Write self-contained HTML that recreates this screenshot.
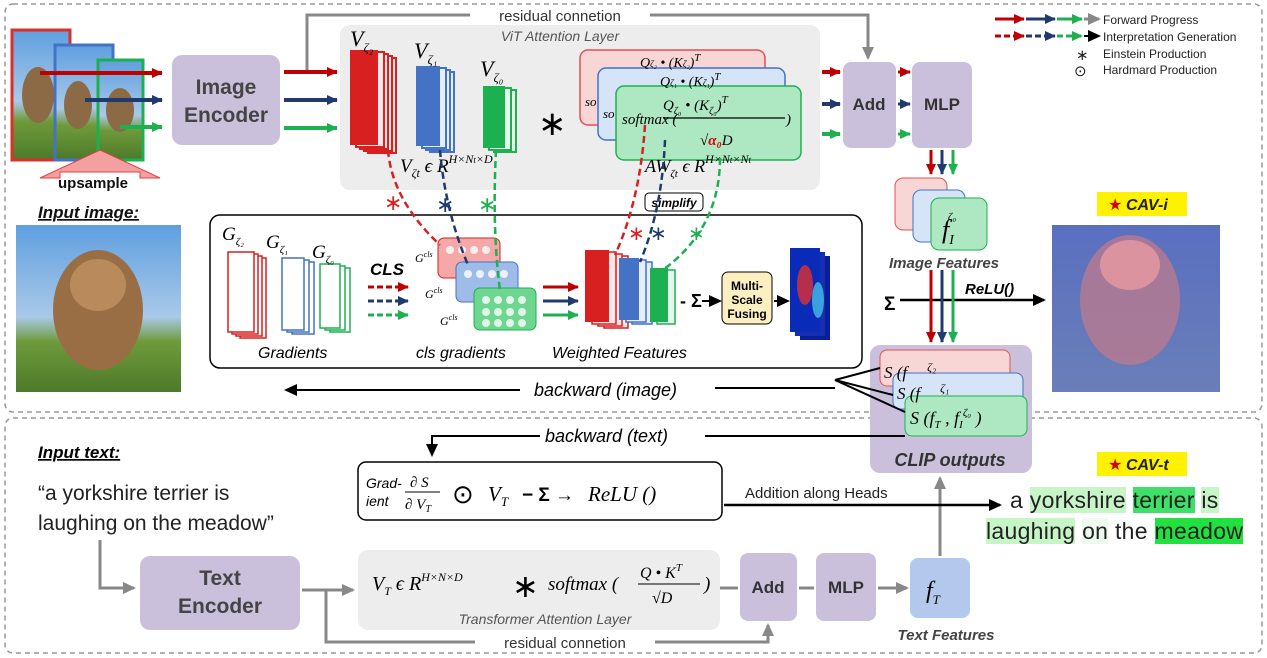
<!DOCTYPE html>
<html><head><meta charset="utf-8"><style>
html,body{margin:0;padding:0;background:#fff;}
body{position:relative;width:1267px;height:658px;overflow:hidden}
svg{display:block;font-family:"Liberation Sans",sans-serif;}
.it{font-style:italic}
.ser{font-family:"Liberation Serif",serif;font-style:italic}
.cav{position:absolute;font-family:"Liberation Sans",sans-serif;font-size:23px;letter-spacing:0.3px;color:#222;white-space:nowrap;line-height:28px}
.l1{background:#c8f5c8}.h1{background:#3fe06a}.h2{background:#22e040}
</style></head><body>
<svg width="1267" height="658" viewBox="0 0 1267 658" xmlns="http://www.w3.org/2000/svg">
<defs>
<marker id="ag" markerUnits="userSpaceOnUse" markerWidth="14" markerHeight="14" refX="11" refY="7" orient="auto"><path d="M0,1 L13,7 L0,13z" fill="#888"/></marker>
<marker id="ak" markerUnits="userSpaceOnUse" markerWidth="14" markerHeight="14" refX="11" refY="7" orient="auto"><path d="M0,1 L13,7 L0,13z" fill="#000"/></marker>
<marker id="ar" markerUnits="userSpaceOnUse" markerWidth="12" markerHeight="12" refX="10" refY="6" orient="auto"><path d="M0,1 L11,6 L0,11z" fill="#c00000"/></marker>
<marker id="ab" markerUnits="userSpaceOnUse" markerWidth="12" markerHeight="12" refX="10" refY="6" orient="auto"><path d="M0,1 L11,6 L0,11z" fill="#1f3a6e"/></marker>
<marker id="agr" markerUnits="userSpaceOnUse" markerWidth="12" markerHeight="12" refX="10" refY="6" orient="auto"><path d="M0,1 L11,6 L0,11z" fill="#1db050"/></marker>
<linearGradient id="dog" x1="0" y1="0" x2="0" y2="1"><stop offset="0" stop-color="#5f9fe0"/><stop offset="0.55" stop-color="#a9c9e8"/><stop offset="0.7" stop-color="#6f9a3a"/><stop offset="1" stop-color="#4d7a2a"/></linearGradient>
<linearGradient id="cav" x1="0" y1="0" x2="0" y2="1"><stop offset="0" stop-color="#5a6fc0"/><stop offset="1" stop-color="#6a7fb8"/></linearGradient>
</defs>

<rect x="5" y="4" width="1257" height="408" rx="8" fill="none" stroke="#999" stroke-dasharray="5,4" stroke-width="1.5"/>
<rect x="5" y="418" width="1257" height="235" rx="8" fill="none" stroke="#999" stroke-dasharray="5,4" stroke-width="1.5"/>

<rect x="12" y="30" width="58" height="130" fill="url(#dog)" stroke="#d9302c" stroke-width="3"/>
<rect x="55" y="45" width="58" height="115" fill="url(#dog)" stroke="#4472c4" stroke-width="3"/>
<rect x="98" y="60" width="45" height="100" fill="url(#dog)" stroke="#1db050" stroke-width="3"/>
<ellipse cx="120" cy="110" rx="14" ry="22" fill="#8b6a45"/>
<ellipse cx="78" cy="105" rx="14" ry="24" fill="#8b6a45"/>
<ellipse cx="38" cy="95" rx="16" ry="28" fill="#8b6a45"/>
<line x1="40" y1="73" x2="162" y2="73" stroke="#c00000" stroke-width="4" marker-end="url(#ar)"/>
<line x1="85" y1="100" x2="162" y2="100" stroke="#1f3a6e" stroke-width="4" marker-end="url(#ab)"/>
<line x1="120" y1="127" x2="162" y2="127" stroke="#1db050" stroke-width="4" marker-end="url(#agr)"/>
<polygon points="40,178 100,150 160,178 140,178 140,172 60,172 60,178" fill="#f4a0a0" stroke="#e04040"/>
<text x="58" y="188" font-size="15" font-weight="bold" fill="#111">upsample</text>
<text x="38" y="218" font-size="17" font-weight="bold" class="it" fill="#111" text-decoration="underline">Input image:</text>
<rect x="16" y="225" width="165" height="167" fill="url(#dog)"/>
<ellipse cx="98" cy="310" rx="45" ry="60" fill="#9a6e45"/>
<ellipse cx="98" cy="285" rx="28" ry="26" fill="#b98a5c"/>

<rect x="172" y="55" width="108" height="90" rx="10" fill="#cbc0dc"/>
<text x="226" y="94" font-size="21" font-weight="bold" fill="#444" text-anchor="middle">Image</text>
<text x="226" y="122" font-size="21" font-weight="bold" fill="#444" text-anchor="middle">Encoder</text>
<line x1="284" y1="72" x2="337" y2="72" stroke="#c00000" stroke-width="4" marker-end="url(#ar)"/>
<line x1="284" y1="100" x2="337" y2="100" stroke="#1f3a6e" stroke-width="4" marker-end="url(#ab)"/>
<line x1="284" y1="128" x2="337" y2="128" stroke="#1db050" stroke-width="4" marker-end="url(#agr)"/>

<polyline points="307,70 307,15 868,15 868,58" fill="none" stroke="#888" stroke-width="3" marker-end="url(#ag)"/>
<rect x="470" y="6" width="180" height="18" fill="#fff"/>
<text x="560" y="21" font-size="15" fill="#333" text-anchor="middle">residual connetion</text>

<rect x="340" y="25" width="480" height="165" rx="10" fill="#ededed"/>
<text x="560" y="41" font-size="14" class="it" fill="#555" text-anchor="middle">ViT Attention Layer</text>
<g stroke="#d92020" stroke-width="2" fill="#fbe6e6">
<rect x="368" y="58" width="28" height="95"/><rect x="364" y="56" width="28" height="95"/><rect x="360" y="54" width="28" height="95"/><rect x="356" y="52" width="28" height="95"/></g>
<rect x="350" y="50" width="28" height="95" fill="#d92020"/>
<g stroke="#4472c4" stroke-width="2" fill="#e6eefb">
<rect x="430" y="72" width="24" height="80"/><rect x="426" y="70" width="24" height="80"/><rect x="422" y="68" width="24" height="80"/></g>
<rect x="416" y="66" width="24" height="80" fill="#4472c4"/>
<g stroke="#1db050" stroke-width="2" fill="#e5f7ea">
<rect x="494" y="90" width="22" height="62"/><rect x="489" y="88" width="22" height="62"/></g>
<rect x="483" y="86" width="22" height="62" fill="#1db050"/>
<text x="350" y="46" font-size="22" class="ser">V<tspan font-size="13" dy="6">ζ₂</tspan></text>
<text x="414" y="58" font-size="22" class="ser">V<tspan font-size="13" dy="6">ζ₁</tspan></text>
<text x="480" y="76" font-size="22" class="ser">V<tspan font-size="13" dy="6">ζ₀</tspan></text>
<text x="538" y="135" font-size="34">∗</text>
<text x="400" y="172" font-size="19" class="ser">V<tspan font-size="12" dy="5">ζt</tspan><tspan dy="-5"> ϵ R</tspan><tspan font-size="12" dy="-9">H×N<tspan font-size="9">t</tspan>×D</tspan></text>
<rect x="580" y="50" width="185" height="75" rx="8" fill="#f9d6d6" stroke="#e05050" stroke-width="1.5"/>
<rect x="598" y="68" width="187" height="72" rx="8" fill="#d6e4f7" stroke="#4472c4" stroke-width="1.5"/>
<rect x="616" y="86" width="185" height="74" rx="8" fill="#aee8c2" stroke="#1db050" stroke-width="1.5"/>
<text x="640" y="67" font-size="14" class="ser">Q<tspan font-size="9">ζ₂</tspan> • (K<tspan font-size="9">ζ₂</tspan>)<tspan dy="-6" font-size="11">T</tspan></text>
<text x="660" y="86" font-size="14" class="ser">Q<tspan font-size="9">ζ₁</tspan> • (K<tspan font-size="9">ζ₁</tspan>)<tspan dy="-6" font-size="11">T</tspan></text>
<text x="585" y="106" font-size="13" class="ser">so</text><text x="603" y="118" font-size="13" class="ser">so</text>
<text x="663" y="110" font-size="15" class="ser">Q<tspan font-size="10" dy="4">ζ₀</tspan><tspan dy="-4"> • (K</tspan><tspan font-size="10" dy="4">ζ₀</tspan><tspan dy="-4">)</tspan><tspan dy="-7" font-size="11">T</tspan></text>
<line x1="663" y1="118" x2="785" y2="118" stroke="#000" stroke-width="1.2"/>
<text x="622" y="124" font-size="15" class="ser">softmax (</text>
<text x="786" y="124" font-size="15" class="ser">)</text>
<text x="700" y="145" font-size="15" class="ser">√<tspan fill="#e00000" font-weight="bold">α₀</tspan>D</text>
<text x="645" y="172" font-size="18" class="ser">AW<tspan font-size="11" dy="5">ζt</tspan><tspan dy="-5"> ϵ R</tspan><tspan font-size="12" dy="-9">H×N<tspan font-size="9">t</tspan>×N<tspan font-size="9">t</tspan></tspan></text>
<rect x="645" y="193" width="58" height="18" rx="4" fill="#fff" stroke="#000"/>
<text x="674" y="207" font-size="12" font-weight="bold" class="it" text-anchor="middle">simplify</text>

<line x1="822" y1="72" x2="840" y2="72" stroke="#c00000" stroke-width="4" marker-end="url(#ar)"/>
<line x1="822" y1="104" x2="840" y2="104" stroke="#1f3a6e" stroke-width="4" marker-end="url(#ab)"/>
<line x1="822" y1="134" x2="840" y2="134" stroke="#1db050" stroke-width="4" marker-end="url(#agr)"/>
<rect x="843" y="62" width="53" height="86" rx="8" fill="#cbc0dc"/>
<text x="869" y="110" font-size="17" font-weight="bold" fill="#333" text-anchor="middle">Add</text>
<line x1="898" y1="72" x2="910" y2="72" stroke="#c00000" stroke-width="3" marker-end="url(#ar)"/>
<line x1="898" y1="104" x2="910" y2="104" stroke="#1f3a6e" stroke-width="3" marker-end="url(#ab)"/>
<line x1="898" y1="134" x2="910" y2="134" stroke="#1db050" stroke-width="3" marker-end="url(#agr)"/>
<rect x="912" y="62" width="60" height="86" rx="8" fill="#cbc0dc"/>
<text x="942" y="110" font-size="17" font-weight="bold" fill="#333" text-anchor="middle">MLP</text>
<line x1="931" y1="150" x2="931" y2="174" stroke="#c00000" stroke-width="3" marker-end="url(#ar)"/>
<line x1="942" y1="150" x2="942" y2="174" stroke="#1f3a6e" stroke-width="3" marker-end="url(#ab)"/>
<line x1="953" y1="150" x2="953" y2="174" stroke="#1db050" stroke-width="3" marker-end="url(#agr)"/>
<rect x="895" y="178" width="52" height="52" rx="8" fill="#f9d6d6" stroke="#e05050"/>
<rect x="913" y="190" width="52" height="52" rx="8" fill="#d6e4f7" stroke="#4472c4"/>
<rect x="931" y="198" width="56" height="52" rx="8" fill="#aee8c2" stroke="#1db050"/>
<text x="942" y="238" font-size="26" class="ser">f<tspan font-size="14" dy="6">I</tspan><tspan font-size="11" dy="-24" dx="-6">ζ₀</tspan></text>
<text x="944" y="268" font-size="15" font-weight="bold" class="it" fill="#444" text-anchor="middle">Image Features</text>

<line x1="995" y1="19" x2="1024" y2="19" stroke="#c00000" stroke-width="3" marker-end="url(#ar)"/>
<line x1="1026" y1="19" x2="1055" y2="19" stroke="#1f3a6e" stroke-width="3" marker-end="url(#ab)"/>
<line x1="1057" y1="19" x2="1082" y2="19" stroke="#1db050" stroke-width="3" marker-end="url(#agr)"/>
<line x1="1084" y1="19" x2="1099" y2="19" stroke="#888" stroke-width="3" marker-end="url(#ag)"/>
<text x="1103" y="24" font-size="12" fill="#222">Forward Progress</text>
<line x1="995" y1="36" x2="1024" y2="36" stroke="#c00000" stroke-width="3" stroke-dasharray="6,3" marker-end="url(#ar)"/>
<line x1="1026" y1="36" x2="1055" y2="36" stroke="#1f3a6e" stroke-width="3" stroke-dasharray="6,3" marker-end="url(#ab)"/>
<line x1="1057" y1="36" x2="1082" y2="36" stroke="#1db050" stroke-width="3" stroke-dasharray="6,3" marker-end="url(#agr)"/>
<line x1="1084" y1="36" x2="1099" y2="36" stroke="#000" stroke-width="2" marker-end="url(#ak)"/>
<text x="1103" y="41" font-size="12" fill="#222">Interpretation Generation</text>
<text x="1076" y="60" font-size="15" fill="#222">∗</text><text x="1103" y="58" font-size="12" fill="#222">Einstein Production</text>
<text x="1074" y="76" font-size="15" fill="#222">⊙</text><text x="1103" y="74" font-size="12" fill="#222">Hardmard Production</text>

<rect x="210" y="215" width="652" height="153" rx="10" fill="#fff" stroke="#000" stroke-width="1.5"/>
<g stroke="#d92020" stroke-width="1.5" fill="#fff">
<rect x="240" y="258" width="26" height="80"/><rect x="236" y="256" width="26" height="80"/><rect x="232" y="254" width="26" height="80"/><rect x="228" y="252" width="26" height="80"/></g>
<g stroke="#4472c4" stroke-width="1.5" fill="#fff">
<rect x="292" y="262" width="22" height="72"/><rect x="287" y="260" width="22" height="72"/><rect x="282" y="258" width="22" height="72"/></g>
<g stroke="#1db050" stroke-width="1.5" fill="#fff">
<rect x="330" y="268" width="20" height="64"/><rect x="325" y="266" width="20" height="64"/><rect x="320" y="264" width="20" height="64"/></g>
<text x="222" y="240" font-size="19" class="ser">G<tspan font-size="11" dy="5">ζ₂</tspan></text>
<text x="266" y="248" font-size="19" class="ser">G<tspan font-size="11" dy="5">ζ₁</tspan></text>
<text x="312" y="258" font-size="19" class="ser">G<tspan font-size="11" dy="5">ζ₀</tspan></text>
<text x="258" y="358" font-size="16" class="it">Gradients</text>
<text x="370" y="275" font-size="17" font-weight="bold" class="it">CLS</text>
<line x1="368" y1="287" x2="408" y2="287" stroke="#c00000" stroke-width="3" stroke-dasharray="6,3" marker-end="url(#ar)"/>
<line x1="368" y1="301" x2="408" y2="301" stroke="#1f3a6e" stroke-width="3" stroke-dasharray="6,3" marker-end="url(#ab)"/>
<line x1="368" y1="315" x2="408" y2="315" stroke="#1db050" stroke-width="3" stroke-dasharray="6,3" marker-end="url(#agr)"/>
<rect x="438" y="238" width="62" height="40" rx="6" fill="#f4a8a8" stroke="#d92020"/>
<rect x="456" y="262" width="62" height="40" rx="6" fill="#9fbbe8" stroke="#4472c4"/>
<rect x="474" y="288" width="62" height="42" rx="6" fill="#6ed690" stroke="#1db050"/>
<g fill="#fff" opacity="0.8">
<circle cx="450" cy="250" r="4"/><circle cx="462" cy="250" r="4"/><circle cx="474" cy="250" r="4"/><circle cx="486" cy="250" r="4"/>
<circle cx="468" cy="274" r="4"/><circle cx="480" cy="274" r="4"/><circle cx="492" cy="274" r="4"/><circle cx="504" cy="274" r="4"/>
<circle cx="486" cy="300" r="4"/><circle cx="498" cy="300" r="4"/><circle cx="510" cy="300" r="4"/><circle cx="522" cy="300" r="4"/>
<circle cx="486" cy="312" r="4"/><circle cx="498" cy="312" r="4"/><circle cx="510" cy="312" r="4"/><circle cx="522" cy="312" r="4"/>
<circle cx="486" cy="323" r="4"/><circle cx="498" cy="323" r="4"/><circle cx="510" cy="323" r="4"/><circle cx="522" cy="323" r="4"/></g>
<text x="415" y="262" font-size="12" class="ser">G<tspan font-size="8" dy="-5">cls</tspan></text>
<text x="425" y="298" font-size="12" class="ser">G<tspan font-size="8" dy="-5">cls</tspan></text>
<text x="440" y="325" font-size="12" class="ser">G<tspan font-size="8" dy="-5">cls</tspan></text>
<text x="416" y="358" font-size="16" class="it">cls gradients</text>
<line x1="543" y1="287" x2="578" y2="287" stroke="#c00000" stroke-width="3" marker-end="url(#ar)"/>
<line x1="543" y1="301" x2="578" y2="301" stroke="#1f3a6e" stroke-width="3" marker-end="url(#ab)"/>
<line x1="543" y1="315" x2="578" y2="315" stroke="#1db050" stroke-width="3" marker-end="url(#agr)"/>
<g stroke="#d92020" stroke-width="1.5" fill="#fbe6e6"><rect x="604" y="256" width="24" height="72"/><rect x="598" y="254" width="24" height="72"/><rect x="592" y="252" width="24" height="72"/></g>
<rect x="585" y="250" width="24" height="72" fill="#d92020"/>
<g stroke="#4472c4" stroke-width="1.5" fill="#e6eefb"><rect x="632" y="262" width="20" height="62"/><rect x="626" y="260" width="20" height="62"/></g>
<rect x="619" y="258" width="20" height="62" fill="#4472c4"/>
<g stroke="#1db050" stroke-width="1.5" fill="#e5f7ea"><rect x="657" y="270" width="18" height="54"/></g>
<rect x="650" y="268" width="18" height="54" fill="#1db050"/>
<text x="552" y="358" font-size="16" class="it">Weighted Features</text>
<text x="680" y="307" font-size="18" font-weight="bold">- Σ</text>
<line x1="702" y1="301" x2="720" y2="301" stroke="#000" stroke-width="2" marker-end="url(#ak)"/>
<rect x="722" y="272" width="50" height="52" rx="6" fill="#fdf0c0" stroke="#000"/>
<text x="747" y="290" font-size="12" font-weight="bold" text-anchor="middle">Multi-</text>
<text x="747" y="304" font-size="12" font-weight="bold" text-anchor="middle">Scale</text>
<text x="747" y="318" font-size="12" font-weight="bold" text-anchor="middle">Fusing</text>
<line x1="774" y1="301" x2="788" y2="301" stroke="#000" stroke-width="2" marker-end="url(#ak)"/>
<rect x="800" y="256" width="30" height="84" fill="#0a1e9a"/><rect x="795" y="252" width="30" height="84" fill="#1430b0"/><rect x="790" y="248" width="30" height="84" fill="#0a2ab8"/>
<ellipse cx="805" cy="285" rx="8" ry="20" fill="#e03030" opacity="0.8"/><ellipse cx="818" cy="300" rx="6" ry="18" fill="#50d0f0" opacity="0.7"/>

<path d="M388,150 Q392,200 440,245" fill="none" stroke="#d92020" stroke-width="2.5" stroke-dasharray="7,4"/>
<path d="M440,150 Q445,210 468,265" fill="none" stroke="#1f3a6e" stroke-width="2.5" stroke-dasharray="7,4"/>
<path d="M496,150 Q492,230 500,290" fill="none" stroke="#1db050" stroke-width="2.5" stroke-dasharray="7,4"/>
<text x="384" y="210" font-size="22" fill="#d92020">∗</text>
<text x="436" y="212" font-size="22" fill="#1f3a6e">∗</text>
<text x="478" y="212" font-size="22" fill="#1db050">∗</text>
<path d="M645,125 Q640,200 615,255" fill="none" stroke="#d92020" stroke-width="2.5" stroke-dasharray="7,4"/>
<path d="M665,140 Q662,210 640,262" fill="none" stroke="#1f3a6e" stroke-width="2.5" stroke-dasharray="7,4"/>
<path d="M720,158 Q720,230 660,272" fill="none" stroke="#1db050" stroke-width="2.5" stroke-dasharray="7,4"/>
<text x="628" y="240" font-size="20" fill="#d92020">∗</text>
<text x="650" y="240" font-size="20" fill="#1f3a6e">∗</text>
<text x="688" y="240" font-size="20" fill="#1db050">∗</text>

<text x="884" y="310" font-size="19" font-weight="bold">Σ</text>
<line x1="900" y1="300" x2="1044" y2="300" stroke="#000" stroke-width="2.5" marker-end="url(#ak)"/>
<text x="965" y="294" font-size="15" font-weight="bold" class="it">ReLU()</text>
<line x1="931" y1="270" x2="931" y2="342" stroke="#c00000" stroke-width="3" marker-end="url(#ar)"/>
<line x1="942" y1="270" x2="942" y2="342" stroke="#1f3a6e" stroke-width="3" marker-end="url(#ab)"/>
<line x1="953" y1="270" x2="953" y2="342" stroke="#1db050" stroke-width="3" marker-end="url(#agr)"/>
<rect x="1097" y="192" width="90" height="24" fill="#fff200"/>
<text x="1108" y="210" font-size="16" fill="#d00000">★</text>
<text x="1126" y="210" font-size="16" font-weight="bold" class="it" fill="#222">CAV-i</text>
<rect x="1052" y="225" width="168" height="167" fill="url(#cav)"/>
<ellipse cx="1130" cy="300" rx="50" ry="65" fill="#c47a8a" opacity="0.7"/>
<ellipse cx="1130" cy="265" rx="30" ry="25" fill="#e89aa0" opacity="0.8"/>

<rect x="870" y="345" width="162" height="128" rx="10" fill="#cbc0dc"/>
<rect x="880" y="350" width="130" height="36" rx="7" fill="#f9d6d6" stroke="#e05050"/>
<rect x="893" y="373" width="130" height="36" rx="7" fill="#d6e4f7" stroke="#4472c4"/>
<rect x="905" y="396" width="122" height="40" rx="7" fill="#aee8c2" stroke="#1db050"/>
<text x="884" y="378" font-size="17" class="ser">S (f<tspan dx="20" font-size="12" dy="-7">ζ₂</tspan></text>
<text x="897" y="399" font-size="17" class="ser">S (f<tspan dx="20" font-size="12" dy="-7">ζ₁</tspan></text>
<text x="910" y="424" font-size="18" class="ser">S (f<tspan font-size="11" dy="4">T</tspan><tspan dy="-4"> , f</tspan><tspan font-size="11" dy="4">I</tspan><tspan font-size="11" dy="-12">ζ₀</tspan><tspan dy="8"> )</tspan></text>
<text x="950" y="466" font-size="18" font-weight="bold" class="it" fill="#333" text-anchor="middle">CLIP outputs</text>

<line x1="835" y1="380" x2="880" y2="368" stroke="#000" stroke-width="2"/>
<line x1="835" y1="380" x2="893" y2="395" stroke="#000" stroke-width="2"/>
<line x1="835" y1="380" x2="905" y2="412" stroke="#000" stroke-width="2"/>
<line x1="835" y1="388" x2="715" y2="388" stroke="#000" stroke-width="2"/>
<line x1="520" y1="390" x2="286" y2="390" stroke="#000" stroke-width="2" marker-end="url(#ak)"/>
<text x="534" y="396" font-size="18" class="it">backward (image)</text>
<line x1="905" y1="436" x2="705" y2="436" stroke="#000" stroke-width="2"/>
<polyline points="540,436 432,436 432,455" fill="none" stroke="#000" stroke-width="2" marker-end="url(#ak)"/>
<text x="545" y="442" font-size="18" class="it">backward (text)</text>

<text x="38" y="458" font-size="17" font-weight="bold" class="it" text-decoration="underline">Input text:</text>
<text x="38" y="500" font-size="21" fill="#222">“a yorkshire terrier is</text>
<text x="38" y="530" font-size="21" fill="#222">laughing on the meadow”</text>
<polyline points="100,540 100,588 134,588" fill="none" stroke="#888" stroke-width="3" marker-end="url(#ag)"/>
<rect x="140" y="556" width="160" height="74" rx="10" fill="#cbc0dc"/>
<text x="220" y="585" font-size="21" font-weight="bold" fill="#444" text-anchor="middle">Text</text>
<text x="220" y="613" font-size="21" font-weight="bold" fill="#444" text-anchor="middle">Encoder</text>
<line x1="302" y1="590" x2="353" y2="590" stroke="#888" stroke-width="3" marker-end="url(#ag)"/>
<polyline points="326,590 326,642 768,642 768,625" fill="none" stroke="#888" stroke-width="3" marker-end="url(#ag)"/>
<rect x="475" y="633" width="180" height="18" fill="#fff"/>
<text x="565" y="648" font-size="15" fill="#333" text-anchor="middle">residual connetion</text>
<rect x="358" y="550" width="362" height="80" rx="10" fill="#ededed"/>
<text x="372" y="590" font-size="20" class="ser">V<tspan font-size="12" dy="5">T</tspan><tspan dy="-5"> ϵ R</tspan><tspan font-size="12" dy="-9">H×N×D</tspan></text>
<text x="512" y="597" font-size="32">∗</text>
<text x="548" y="590" font-size="19" class="ser">softmax (</text>
<text x="640" y="578" font-size="16" class="ser">Q • K<tspan font-size="11" dy="-7">T</tspan></text>
<line x1="638" y1="584" x2="700" y2="584" stroke="#000"/>
<text x="652" y="603" font-size="16" class="ser">√D</text>
<text x="704" y="590" font-size="19" class="ser">)</text>
<text x="545" y="624" font-size="14" class="it" fill="#555" text-anchor="middle">Transformer Attention Layer</text>
<line x1="720" y1="588" x2="738" y2="588" stroke="#888" stroke-width="3"/>
<rect x="740" y="553" width="57" height="68" rx="8" fill="#cbc0dc"/>
<text x="768" y="593" font-size="17" font-weight="bold" fill="#333" text-anchor="middle">Add</text>
<line x1="799" y1="588" x2="814" y2="588" stroke="#888" stroke-width="3"/>
<rect x="816" y="553" width="60" height="68" rx="8" fill="#cbc0dc"/>
<text x="846" y="593" font-size="17" font-weight="bold" fill="#333" text-anchor="middle">MLP</text>
<line x1="878" y1="588" x2="907" y2="588" stroke="#888" stroke-width="3" marker-end="url(#ag)"/>
<rect x="910" y="558" width="60" height="60" rx="8" fill="#b4c8ee"/>
<text x="926" y="598" font-size="24" class="ser">f<tspan font-size="13" dy="6">T</tspan></text>
<text x="946" y="640" font-size="15" font-weight="bold" class="it" fill="#444" text-anchor="middle">Text Features</text>
<line x1="940" y1="556" x2="940" y2="478" stroke="#888" stroke-width="3" marker-end="url(#ag)"/>

<rect x="358" y="462" width="364" height="58" rx="8" fill="#fff" stroke="#000" stroke-width="1.5"/>
<text x="366" y="488" font-size="14" class="it">Grad-</text>
<text x="366" y="506" font-size="14" class="it">ient</text>
<text x="410" y="487" font-size="15" class="ser">∂ S</text>
<line x1="405" y1="492" x2="440" y2="492" stroke="#000"/>
<text x="405" y="509" font-size="15" class="ser">∂ V<tspan font-size="10" dy="3">T</tspan></text>
<text x="452" y="503" font-size="26">⊙</text>
<text x="488" y="501" font-size="21" class="ser">V<tspan font-size="13" dy="5">T</tspan></text>
<text x="522" y="501" font-size="19" font-weight="bold">− Σ →</text>
<text x="588" y="501" font-size="21" class="ser">ReLU ()</text>
<line x1="724" y1="505" x2="1000" y2="505" stroke="#000" stroke-width="2.5" marker-end="url(#ak)"/>
<text x="745" y="498" font-size="15" fill="#222">Addition along Heads</text>
<rect x="1097" y="452" width="90" height="24" fill="#fff200"/>
<text x="1108" y="470" font-size="16" fill="#d00000">★</text>
<text x="1126" y="470" font-size="16" font-weight="bold" class="it" fill="#222">CAV-t</text>
</svg>
<div class="cav" style="left:1010px;top:486px">a <span class="l1">yorkshire</span> <span class="h1">terrier</span> <span class="l1">is</span></div>
<div class="cav" style="left:986px;top:517px"><span class="l1">laughing</span> <span style="background:#eefaee">on</span> the <span class="h2">meadow</span></div>
</body></html>
